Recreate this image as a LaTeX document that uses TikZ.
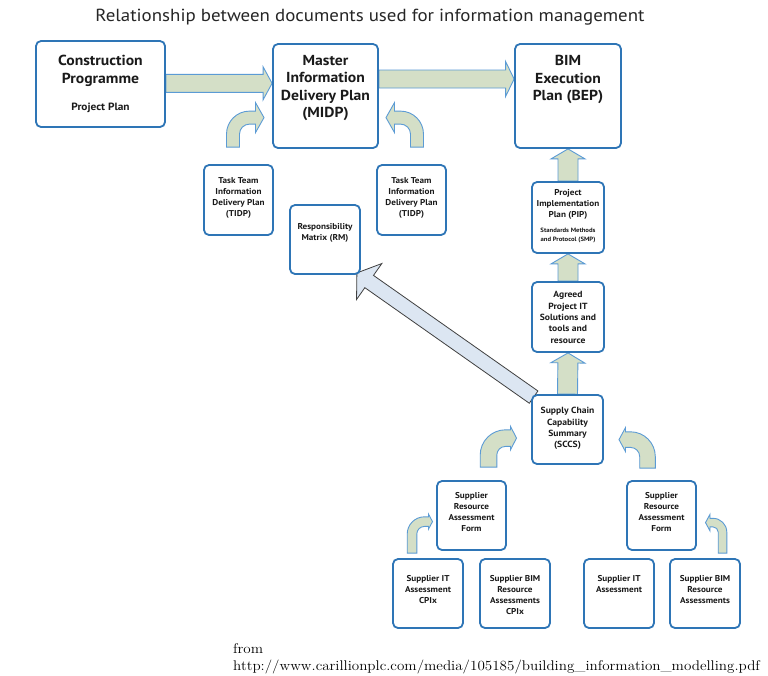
\documentclass[tikz,border=0pt]{standalone}
\usepackage{fontspec}
\newfontfamily\ptsans[FakeStretch=1.08]{PT Sans}
\usetikzlibrary{calc}
\pgfdeclarelayer{back}
\pgfdeclarelayer{bg}
\pgfsetlayers{back,bg,main}
\definecolor{boxblue}{HTML}{2E75B6}
\definecolor{arrblue}{HTML}{5B9BD5}
\definecolor{agreen}{HTML}{D4DFC7}
\definecolor{diagfill}{HTML}{DCE6F2}
\definecolor{diagline}{HTML}{404040}
\definecolor{txt}{HTML}{1A1A1A}
\tikzset{
 docbox/.style={draw=boxblue, line width=1.8pt, rounded corners=5pt, fill=white, inner sep=0pt},
 boxtxt/.style={font=\ptsans\bfseries\fontsize{8.5}{11}\selectfont, align=center, inner sep=0pt, text=txt},
 midtxt/.style={font=\ptsans\bfseries\fontsize{8.9}{11.4}\selectfont, align=center, inner sep=0pt, text=txt},
 bigtxt/.style={font=\ptsans\bfseries\fontsize{14.5}{17.5}\selectfont, align=center, inner sep=0pt, text=txt},
 greenarr/.style={fill=agreen, draw=arrblue, line width=0.9pt, line join=miter},
 diagarr/.style={fill=diagfill, draw=diagline, line width=0.8pt, line join=miter},
}
% straight block arrow: style, start, end, half body, half head, head length
\newcommand\blockarr[6]{%
 \coordinate (ba-s) at #2; \coordinate (ba-e) at #3;
 \coordinate (ba-h) at ($(ba-e)!#6!(ba-s)$);
 \draw[#1] ($(ba-s)!#4!90:(ba-e)$) -- ($(ba-h)!#4!-90:(ba-s)$) -- ($(ba-h)!#5!-90:(ba-s)$) -- (ba-e) -- ($(ba-h)!#5!90:(ba-s)$) -- ($(ba-h)!#4!90:(ba-s)$) -- ($(ba-s)!#4!-90:(ba-e)$) -- cycle;}
% curved block arrow: xscale, origin, L1, L2, R, half body, half head, head length
\newcommand\curvarr[8]{%
 \begin{scope}[shift={#2}, xscale=#1]
 \draw[greenarr] (-#6,0) -- (-#6,#3) arc[start angle=180,end angle=90,radius={#5+#6}] -- ++(#4,0) -- ++(0,{#7-#6}) -- ({#5+#4+#8},{#3+#5}) -- ({#5+#4},{#3+#5-#7}) -- ++(0,{#7-#6}) -- ({#5},{#3+#5-#6}) arc[start angle=90,end angle=180,radius={#5-#6}] -- (#6,0) -- cycle;
 \end{scope}}
\begin{document}
\begin{tikzpicture}[x=1pt,y=1pt]
\begin{pgfonlayer}{back}
\fill[white] (0,0) rectangle (768,-675);
\end{pgfonlayer}
\useasboundingbox (0,0) rectangle (768,-675);

\node[font=\ptsans\fontsize{17.5}{20}\selectfont, text=black!85, inner sep=0pt] (title) at (370,-17) {Relationship between documents used for information management};

% boxes
\node[docbox, minimum width=129pt, minimum height=86pt] (cp) at (100.5,-84) {};
\node[docbox, minimum width=105pt, minimum height=104pt] (midp) at (325.5,-96) {};
\node[docbox, minimum width=106pt, minimum height=104pt] (bep) at (568,-96) {};
\node[docbox, minimum width=69pt, minimum height=70pt] (tidpl) at (238.5,-200) {};
\node[docbox, minimum width=69pt, minimum height=70pt] (tidpr) at (411.5,-200) {};
\node[docbox, minimum width=70pt, minimum height=69pt] (rm) at (325,-239.5) {};
\node[docbox, minimum width=72pt, minimum height=71pt] (pip) at (568,-217.5) {};
\node[docbox, minimum width=72pt, minimum height=70pt] (agreed) at (568,-317) {};
\node[docbox, minimum width=71pt, minimum height=69pt] (sccs) at (567.5,-429.5) {};
\node[docbox, minimum width=69pt, minimum height=69pt] (srafl) at (471.5,-515.5) {};
\node[docbox, minimum width=69pt, minimum height=69pt] (srafr) at (661.5,-515.5) {};
\node[docbox, minimum width=70pt, minimum height=69pt] (sitl) at (428,-593.5) {};
\node[docbox, minimum width=70pt, minimum height=69pt] (sbiml) at (515,-593.5) {};
\node[docbox, minimum width=70pt, minimum height=69pt] (sitr) at (619,-593.5) {};
\node[docbox, minimum width=70pt, minimum height=69pt] (sbimr) at (705,-593.5) {};

% texts
\node[bigtxt] (cp-t) at (100.5,-71) {Construction\\Programme};
\node[font=\ptsans\bfseries\fontsize{10.5}{12}\selectfont, inner sep=0pt, text=txt] (cp-s) at (100.5,-108) {Project Plan};
\node[bigtxt] (midp-t) at (325.5,-88) {Master\\Information\\Delivery Plan\\(MIDP)};
\node[bigtxt] (bep-t) at (568,-79.5) {BIM\\Execution\\Plan (BEP)};
\node[boxtxt] (tidpl-t) at (238.5,-197.5) {Task Team\\Information\\Delivery Plan\\(TIDP)};
\node[boxtxt] (tidpr-t) at (411.5,-197.5) {Task Team\\Information\\Delivery Plan\\(TIDP)};
\node[boxtxt] (rm-t) at (325,-232.5) {Responsibility\\Matrix (RM)};
\node[boxtxt] (pip-t) at (568,-204) {Project\\Implementation\\Plan (PIP)};
\node[font=\ptsans\bfseries\fontsize{6.2}{9}\selectfont, align=center, inner sep=0pt, text=txt] (pip-s) at (568,-235.5) {Standards Methods\\and Protocol (SMP)};
\node[midtxt] (agreed-t) at (568,-317.5) {Agreed\\Project IT\\Solutions and\\tools and\\resource};
\node[midtxt] (sccs-t) at (567.5,-428.5) {Supply Chain\\Capability\\Summary\\(SCCS)};
\node[boxtxt] (srafl-t) at (471.5,-512.5) {Supplier\\Resource\\Assessment\\Form};
\node[boxtxt] (srafr-t) at (661.5,-512.5) {Supplier\\Resource\\Assessment\\Form};
\node[boxtxt] (sitl-t) at (428,-589.5) {Supplier IT\\Assessment\\CPIx};
\node[boxtxt] (sbiml-t) at (515,-595) {Supplier BIM\\Resource\\Assessments\\CPIx};
\node[boxtxt] (sitr-t) at (619,-584) {Supplier IT\\Assessment};
\node[boxtxt] (sbimr-t) at (705,-589.5) {Supplier BIM\\Resource\\Assessments};

\node[anchor=north west, align=left, inner sep=0pt, xscale=1.078, font=\fontsize{14}{17}\selectfont] (src) at (233,-643.5) {from\\http://www.carillionplc.com/media/105185/building\_information\_modelling.pdf};

% arrows
\begin{pgfonlayer}{bg}
\blockarr{greenarr}{($(cp.east)+(0,0.7)$)}{($(midp.west)+(0,12.7)$)}{9pt}{16.5pt}{9pt}
\blockarr{greenarr}{($(midp.east)+(0,17)$)}{($(bep.west)+(0,17)$)}{9pt}{17.5pt}{8.5pt}
\blockarr{greenarr}{(pip.north)}{(bep.south)}{10pt}{17pt}{10pt}
\blockarr{greenarr}{(agreed.north)}{(pip.south)}{10pt}{17pt}{10pt}
\blockarr{greenarr}{(sccs.north)}{(agreed.south)}{10pt}{17pt}{10pt}
\blockarr{diagarr}{($(sccs.north west)+(2.5,-3)$)}{($(rm.south east)+(-4,2)$)}{7.5pt}{22pt}{15pt}
\curvarr{1}{($(tidpl.north)+(-5.5,17)$)}{13}{6}{16.5}{6.5}{15}{8.5}
\curvarr{-1}{($(tidpr.north)+(5.5,17)$)}{13}{6}{16.5}{6.5}{15}{8.5}
\curvarr{1}{($(srafl.north)+(17,13)$)}{12}{5}{17}{8.3}{11.7}{6}
\curvarr{-1}{($(srafr.north)+(-14,12)$)}{11.5}{5}{17}{7.8}{12}{6.5}
\curvarr{1}{($(sitl.north)+(-16,5)$)}{19}{4}{12.5}{4.8}{7.5}{4}
\curvarr{-1}{($(sbimr.north)+(17.5,5)$)}{21}{3}{9.5}{4.3}{8.3}{4.5}
\end{pgfonlayer}
\end{tikzpicture}
\end{document}
